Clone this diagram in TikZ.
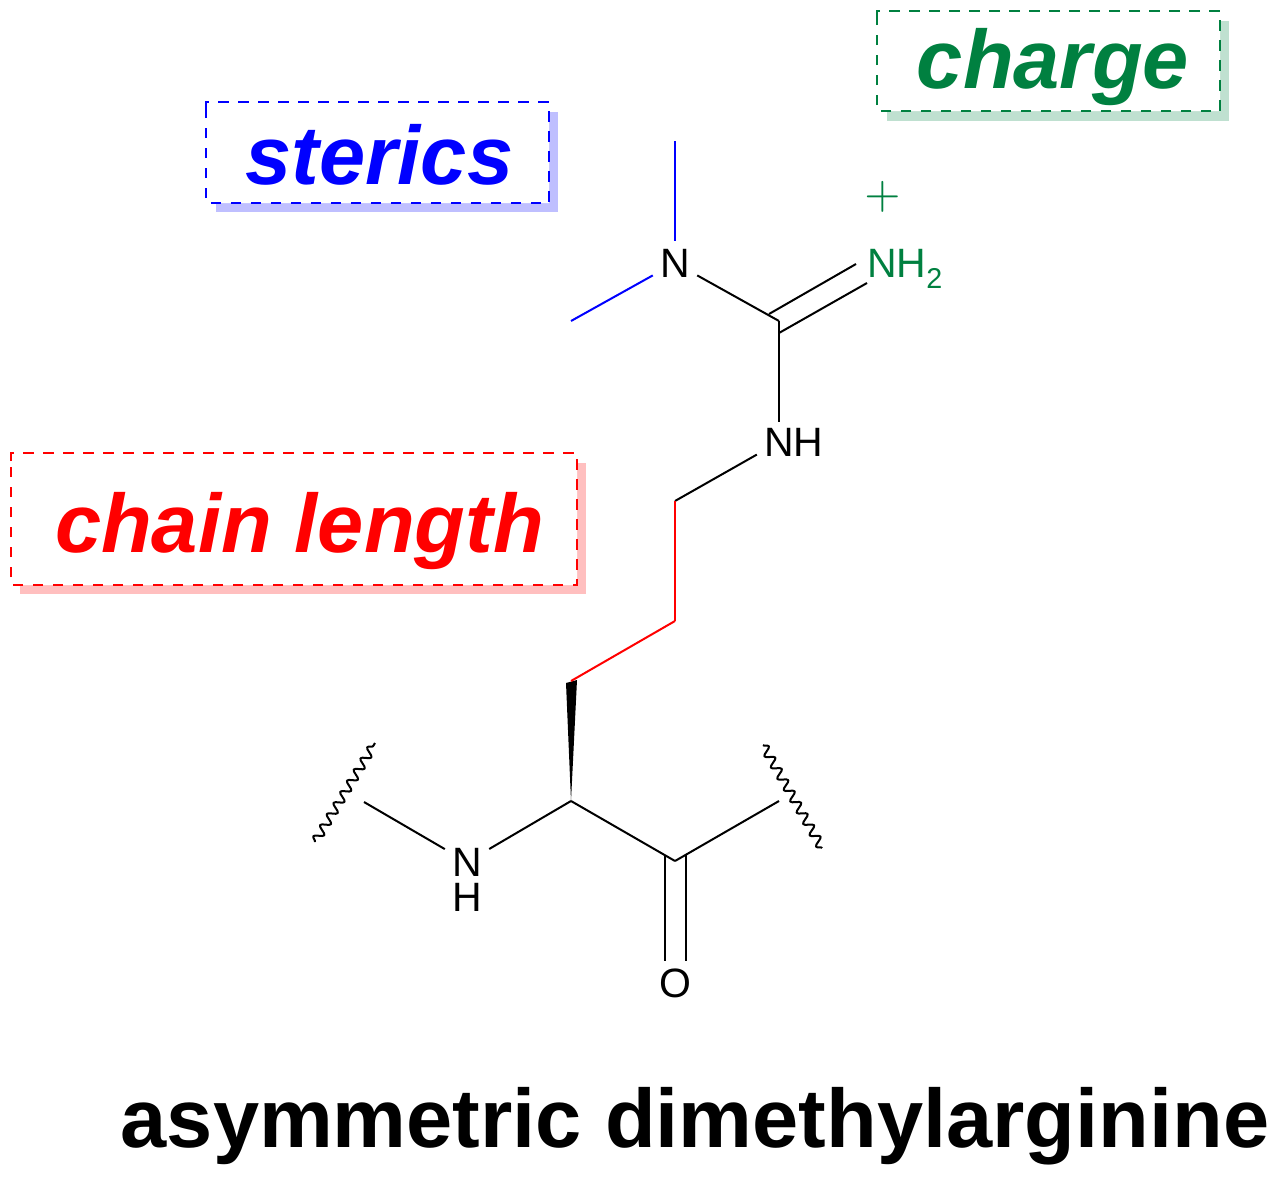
\documentclass[tikz,border=0pt]{standalone}
\usepackage{fontspec}
\setmainfont{Liberation Sans}
\usetikzlibrary{decorations.pathmorphing,calc}
\definecolor{chargegreen}{RGB}{0,128,64}
\definecolor{shadegreen}{RGB}{191,224,208}
\definecolor{shadeblue}{RGB}{191,191,255}
\definecolor{shadered}{RGB}{255,191,191}
\tikzset{
  x=1pt,y=-1pt,
  bond/.style={line width=2pt,black},
  atom/.style={font=\fontsize{41}{41}\selectfont,inner sep=0pt,minimum width=44pt,minimum height=44pt,text height=29pt,text depth=0pt},
  tag/.style={font=\fontsize{83}{83}\selectfont\bfseries\itshape,inner sep=0pt,anchor=base},
  frame/.style={draw=#1,line width=2pt,dash pattern=on 10.5pt off 9.5pt,fill=white},
  wavy/.style={line width=2pt,line join=round,decorate,decoration={snake,amplitude=4.5pt,segment length=13pt}},
}
\begin{document}
\begin{tikzpicture}
\useasboundingbox (0,0) rectangle (1281,1178);
% frames
\fill[shadeblue] (216,112) rectangle (558,212);
\draw[frame=blue] (206,110) -- (206,102) -- (549,102) -- (549,203) -- (206,203) -- cycle;
\node[tag,text=blue] (sterics) at (379.5,184) {sterics};
\fill[shadegreen] (887,21) rectangle (1229,121);
\draw[frame=chargegreen] (877,19) -- (877,11) -- (1220,11) -- (1220,111) -- (877,111) -- cycle;
\node[tag,text=chargegreen] (charge) at (1053,88) {charge};
\fill[shadered] (20,463) rectangle (586,594);
\draw[frame=red] (11,461) -- (11,453) -- (577,453) -- (577,585) -- (11,585) -- cycle;
\node[tag,text=red] (chain) at (299.5,552) {chain length};
% atoms
\node[atom] (N1) at (675,263) {N};
\node[atom,minimum height=40pt,text=chargegreen] (N2) at (882,263) {N\rlap{H\textsubscript{2}}};
\node[atom,minimum height=40pt] (N3) at (779,442) {N\rlap{H}};
\node[atom] (N4) at (467,862) {N};
\node[atom,minimum width=30pt,minimum height=30pt] (H4) at (467,897) {H};
\node[atom] (O) at (675,983) {O};
\node[text=chargegreen,inner sep=0pt,scale=4.65] (plus) at (882.5,197) {$+$};
% skeleton
\coordinate (Me1) at (675,141);
\coordinate (Me2) at (571,321);
\coordinate (Cg) at (779,321);
\coordinate (C1) at (675,501);
\coordinate (C2) at (675,621);
\coordinate (C3) at (571,681);
\coordinate (Ca) at (571,801);
\coordinate (CO) at (675,861);
\coordinate (R1) at (364,802);
\coordinate (R2) at (779,801);
\coordinate (W1a) at (315,842);
\coordinate (W1b) at (375,743);
\coordinate (W2a) at (763,745);
\coordinate (W2b) at (822,848);
% bonds
\draw[bond,blue] (Me1) -- (N1);
\draw[bond,blue] (Me2) -- (N1);
\draw[bond] (N1) -- (Cg);
\draw[bond] (Cg) -- (N3);
\draw[bond] ($(Cg)+(-10,-7)$) -- (856,264);
\draw[bond] ($(Cg)+(0,12)$) -- (867,283);
\draw[bond] (N3) -- (C1);
\fill (Ca) -- ($(C3)+(-5,2)$) -- ($(C3)+(6,-1)$) -- cycle;
\draw[bond,red] (C1) -- (C2);
\draw[bond,red] (C2) -- (C3);
\draw[bond] (Ca) -- (N4);
\draw[bond] (N4) -- (R1);
\draw[bond] (Ca) -- (CO);
\draw[bond] (CO) -- (R2);
\draw[bond] ($(CO)+(-10,-6)$) -- ($(O.north)+(-10,0)$);
\draw[bond] ($(CO)+(11,-6)$) -- ($(O.north)+(11,0)$);
\draw[wavy] (W1a) -- (W1b);
\draw[wavy] (W2a) -- (W2b);
\node[font=\fontsize{83}{83}\selectfont\bfseries,inner sep=0pt,anchor=base] (title) at (695,1147) {asymmetric dimethylarginine};
\end{tikzpicture}
\end{document}
